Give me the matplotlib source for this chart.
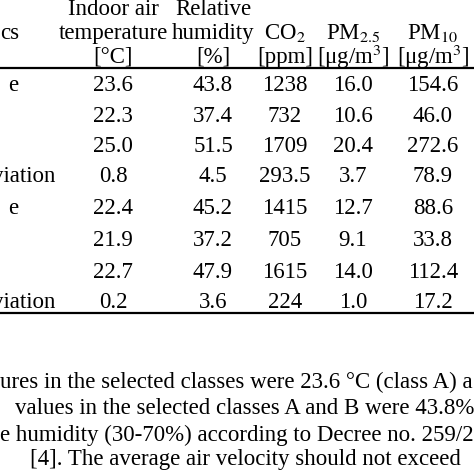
import matplotlib.pyplot as plt

plt.rcParams['font.family'] = ['Liberation Serif', 'DejaVu Serif']
plt.rcParams['mathtext.fontset'] = 'stix'

header_lines = [
    ["", "Indoor air", "Relative", "", "", ""],
    ["cs", "temperature", "humidity", "CO$_2$", "PM$_{2.5}$", "PM$_{10}$"],
    ["", "[°C]", "[%]", "[ppm]", "[μg/m$^3$]", "[μg/m$^3$]"],
]
row_labels = ["e", "", "", "viation", "e", "", "", "viation"]
temperature = ["23.6", "22.3", "25.0", "0.8", "22.4", "21.9", "22.7", "0.2"]
humidity = ["43.8", "37.4", "51.5", "4.5", "45.2", "37.2", "47.9", "3.6"]
co2 = ["1238", "732", "1709", "293.5", "1415", "705", "1615", "224"]
pm25 = ["16.0", "10.6", "20.4", "3.7", "12.7", "9.1", "14.0", "1.0"]
pm10 = ["154.6", "46.0", "272.6", "78.9", "88.6", "33.8", "112.4", "17.2"]
paragraph = [
    "ures in the selected classes were 23.6 °C (class A) a",
    "values in the selected classes A and B were 43.8%",
    "e humidity (30-70%) according to Decree no. 259/2",
    "[4]. The average air velocity should not exceed",
]

W = H = 474
fig = plt.figure(figsize=(4.74, 4.74), dpi=100)
ax = fig.add_axes([0, 0, 1, 1])
ax.set_xlim(0, W)
ax.set_ylim(H, 0)
ax.axis('off')

fs = 16.5
col_x = [0, 113, 213, 285, 353, 433]
header_y = [9, 33, 57]
for y, line in zip(header_y, header_lines):
    for i, (x, t) in enumerate(zip(col_x, line)):
        ax.text(x, y, t, fontsize=fs, ha='left' if i == 0 else 'center', va='center')

ax.plot([0, W], [68, 68], color='black', lw=1.6)
ax.plot([0, W], [313, 313], color='black', lw=1.6)

row_y = [85, 116, 146, 177, 208, 240, 272, 302]
cols = [temperature, humidity, co2, pm25, pm10]
for r, y in enumerate(row_y):
    lab = row_labels[r]
    if lab:
        x0 = 55 if lab == "viation" else 18
        ax.text(x0, y, lab, fontsize=fs, ha='right', va='center')
    for x, col in zip(col_x[1:], cols):
        ax.text(x, y, col[r], fontsize=fs, ha='center', va='center')

para_y = [382, 408, 435, 460]
para_x = [0, 15, 0, 30]
for x, y, t in zip(para_x, para_y, paragraph):
    ax.text(x, y, t, fontsize=fs, ha='left', va='center')

fig.savefig('out.png', dpi=100)
